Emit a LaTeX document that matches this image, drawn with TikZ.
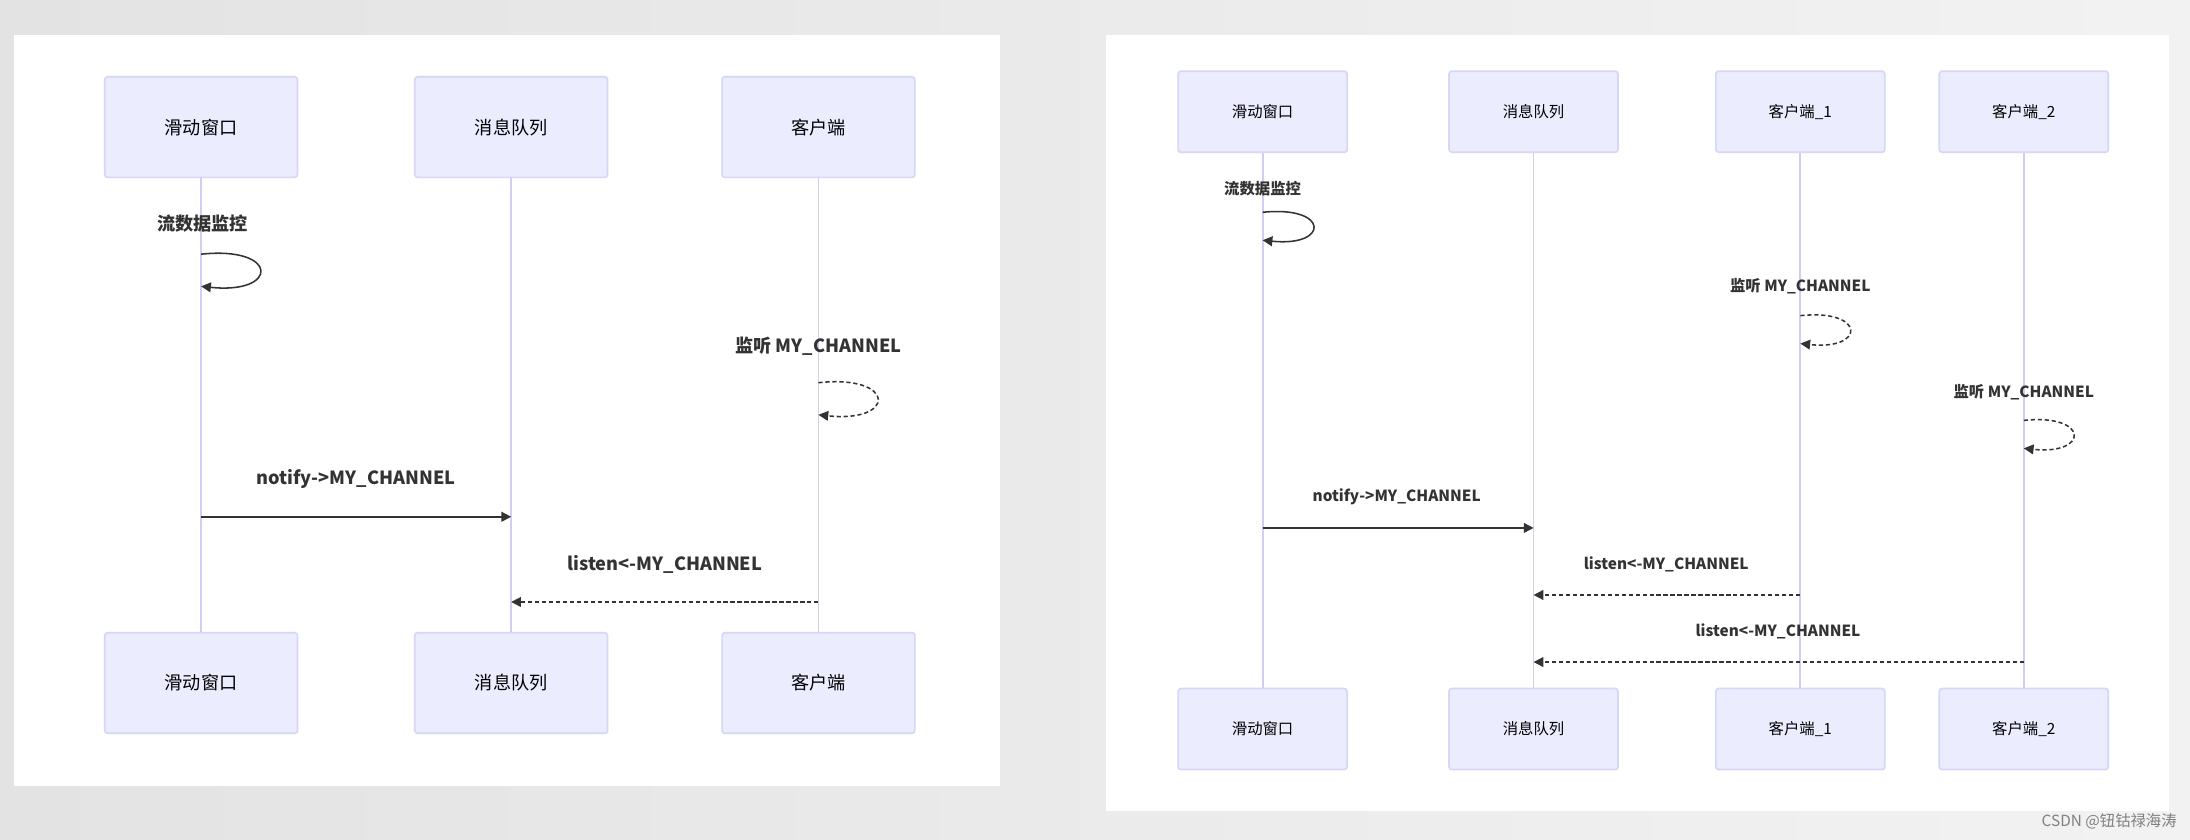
\documentclass[tikz,border=0pt]{standalone}
\usepackage{fontspec}
\newfontfamily\cjk{Noto Sans CJK SC}
\usetikzlibrary{arrows.meta}
\definecolor{boxfill}{HTML}{ECECFF}
\definecolor{boxline}{HTML}{D6D6F5}
\definecolor{life}{HTML}{D4CCF2}
\definecolor{ink}{HTML}{333333}
\begin{document}
\begin{tikzpicture}[x=1pt,y=-1pt,
  actorL/.style={draw=boxline,fill=boxfill,line width=1.2pt,rounded corners=2pt,minimum width=138pt,minimum height=72pt,font=\cjk\fontsize{13}{15}\selectfont,text=black},
  actorR/.style={draw=boxline,fill=boxfill,line width=1.2pt,rounded corners=2pt,minimum width=121pt,minimum height=58pt,font=\cjk\fontsize{11}{13}\selectfont,text=black},
  lifeline/.style={draw=life,line width=1.3pt},
  msg/.style={draw=ink,line width=1.1pt,-{Triangle[length=7pt,width=7pt]}},
  dmsg/.style={msg,dash pattern=on 3pt off 2pt},
  lblL/.style={font=\cjk\bfseries\fontsize{13}{15}\selectfont,text=ink},
  lblR/.style={font=\cjk\bfseries\fontsize{11}{13}\selectfont,text=ink}]
\useasboundingbox (0,0) rectangle (1568,601);
\shade[left color=gray!22,right color=gray!10] (0,0) rectangle (1568,601);
\fill[white] (10,25) rectangle (716,563);
\fill[white] (792,25) rectangle (1553,581);
% left diagram
\node[actorL] (a1) at (144,91) {滑动窗口};
\node[actorL] (a2) at (366,91) {消息队列};
\node[actorL] (a3) at (586,91) {客户端};
\node[actorL] (b1) at (144,489) {滑动窗口};
\node[actorL] (b2) at (366,489) {消息队列};
\node[actorL] (b3) at (586,489) {客户端};
\draw[lifeline] (a1) -- (b1);
\draw[lifeline] (a2) -- (b2);
\draw[lifeline] (a3) -- (b3);
\coordinate (l1s) at (144,182); \coordinate (l1e) at (144,205);
\node[lblL] (t1) at (145,160) {流数据监控};
\draw[msg] (l1s) .. controls (200,176) and (200,211) .. (l1e);
\coordinate (l2s) at (586,274); \coordinate (l2e) at (586,297);
\node[lblL] (t2) at (586,248) {监听 MY\_CHANNEL};
\draw[dmsg] (l2s) .. controls (642,268) and (642,303) .. (l2e);
\coordinate (n1) at (144,370); \coordinate (n2) at (366,370);
\node[lblL] (t3) at (255,343) {notify->MY\_CHANNEL};
\draw[msg] (n1) -- (n2);
\coordinate (m1) at (586,431); \coordinate (m2) at (366,431);
\node[lblL] (t4) at (476,404) {listen<-MY\_CHANNEL};
\draw[dmsg] (m1) -- (m2);
% right diagram
\node[actorR] (c1) at (904,80) {滑动窗口};
\node[actorR] (c2) at (1098,80) {消息队列};
\node[actorR] (c3) at (1289,80) {客户端\_1};
\node[actorR] (c4) at (1449,80) {客户端\_2};
\node[actorR] (d1) at (904,522) {滑动窗口};
\node[actorR] (d2) at (1098,522) {消息队列};
\node[actorR] (d3) at (1289,522) {客户端\_1};
\node[actorR] (d4) at (1449,522) {客户端\_2};
\draw[lifeline] (c1) -- (d1);
\draw[lifeline] (c2) -- (d2);
\draw[lifeline] (c3) -- (d3);
\draw[lifeline] (c4) -- (d4);
\coordinate (r1s) at (904,152); \coordinate (r1e) at (904,172);
\node[lblR] (u1) at (904,135) {流数据监控};
\draw[msg] (r1s) .. controls (952,147) and (952,177) .. (r1e);
\coordinate (r2s) at (1289,226); \coordinate (r2e) at (1289,246);
\node[lblR] (u2) at (1289,205) {监听 MY\_CHANNEL};
\draw[dmsg] (r2s) .. controls (1336,221) and (1336,251) .. (r2e);
\coordinate (r3s) at (1449,301); \coordinate (r3e) at (1449,321);
\node[lblR] (u3) at (1449,281) {监听 MY\_CHANNEL};
\draw[dmsg] (r3s) .. controls (1496,296) and (1496,326) .. (r3e);
\coordinate (p1) at (904,378); \coordinate (p2) at (1098,378);
\node[lblR] (u4) at (1000,356) {notify->MY\_CHANNEL};
\draw[msg] (p1) -- (p2);
\coordinate (q1) at (1289,426); \coordinate (q2) at (1098,426);
\node[lblR] (u5) at (1193,404) {listen<-MY\_CHANNEL};
\draw[dmsg] (q1) -- (q2);
\coordinate (s1) at (1449,474); \coordinate (s2) at (1098,474);
\node[lblR] (u6) at (1273,452) {listen<-MY\_CHANNEL};
\draw[dmsg] (s1) -- (s2);
\node[font=\cjk\fontsize{11}{13}\selectfont,text=gray,anchor=east] (wm) at (1562,588) {CSDN @钮钴禄海涛};
\end{tikzpicture}
\end{document}
